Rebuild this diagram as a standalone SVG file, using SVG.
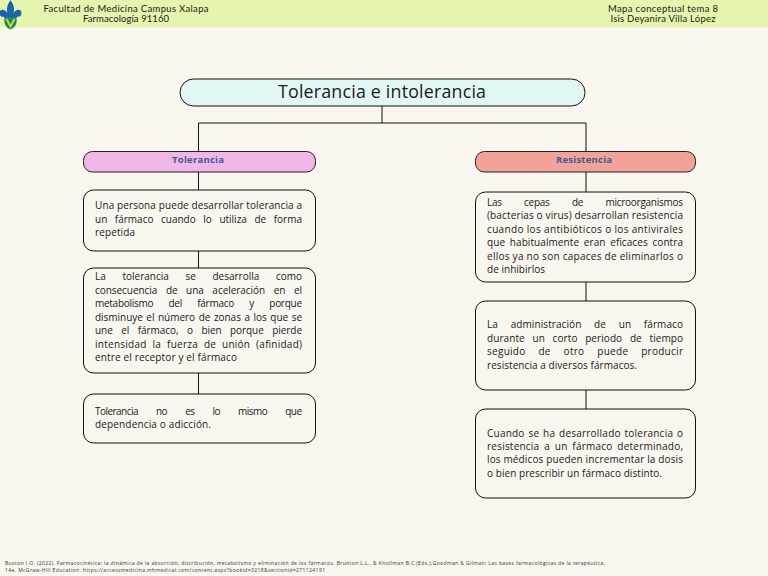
<svg xmlns="http://www.w3.org/2000/svg" width="768" height="576" viewBox="0 0 768 576">
<style>
text{font-family:"Open Sans","Liberation Sans",sans-serif;fill:#1a1a1a}
.box{fill:#f9f5ef;stroke:#111;stroke-width:1}
.hd{stroke:#222;stroke-width:1}
.b{font-size:10px}
.s{font-family:"Lato","Liberation Sans",sans-serif;font-size:9.500px}
.h{font-size:9.500px;font-weight:700;fill:#3f5a96}
.f{font-size:5px;fill:#333}
.c{fill:none;stroke:#111;stroke-width:1}
</style>
<rect width="768" height="576" fill="#f9f5ef"/>
<rect width="768" height="27.500" fill="#e6f5ad"/>
<g id="logo">
<path d="M10.500 0C13 4 15 7 13.500 13C15 10 19 8.500 21 11C22.500 14 20 18 17 16.500C17.500 19 14.500 18.500 13 17.500L13 19H8L8 17.500C6.500 18.500 3.500 19 4 16.500C1 18-1.500 14 0 11C2 8.500 6 10 7.500 13C6 7 8 4 10.500 0Z" fill="#1b64ac"/>
<path d="M4.500 18.500C7 17 14 17 16.500 18.500C17.500 23 15 28 10.500 29.500C6 28 3.500 23 4.500 18.500Z" fill="#1b8a5a"/>
<path d="M6.500 19L10.500 26.500L14.500 19" fill="none" stroke="#c9d43c" stroke-width="2"/>
</g>
<g id="header-left"><text class="s" x="126" y="12" text-anchor="middle" textLength="165">Facultad de Medicina Campus Xalapa</text><text class="s" x="126" y="22" text-anchor="middle" textLength="86">Farmacología 91160</text></g>
<g id="header-right"><text class="s" x="663" y="11.500" text-anchor="middle" textLength="110">Mapa conceptual tema 8</text><text class="s" x="663" y="21.500" text-anchor="middle" textLength="105">Isis Deyanira Villa López</text></g>
<g id="connectors">
<path class="c" d="M382 106V123M198.500 123H586M198.500 123V151M586 123V151M198.500 172V190M198.500 251V268M198.500 373V394M586 172V192M586 282V301M586 390V409"/>
</g>
<g id="title"><rect x="180" y="79" width="405" height="27" rx="13.500" fill="#e1f7f3" stroke="#111"/><text x="278" y="98" font-size="17.800" textLength="208">Tolerancia e intolerancia</text></g>
<g id="tolerancia"><rect class="hd" x="83.500" y="151.500" width="232" height="20.500" rx="9" fill="#efb6e6"/><text class="h" x="172" y="163" textLength="52">Tolerancia</text></g>
<g id="resistencia"><rect class="hd" x="475.500" y="151.500" width="220" height="20.500" rx="9" fill="#f2a299"/><text class="h" x="556" y="163" textLength="56">Resistencia</text></g>
<g id="t1"><rect class="box" x="83.500" y="190" width="232" height="61" rx="10"/>
<text class="b" x="95" y="208.500" textLength="207">Una persona puede desarrollar tolerancia a</text>
<text class="b" x="95" y="222.500" word-spacing="5" textLength="207">un fármaco cuando lo utiliza de forma</text>
<text class="b" x="95" y="235.500" textLength="40">repetida</text></g>
<g id="t2"><rect class="box" x="83.500" y="268" width="232" height="105" rx="10"/>
<text class="b" x="95" y="279.500" word-spacing="14" textLength="207">La tolerancia se desarrolla como</text>
<text class="b" x="95" y="293.500" word-spacing="6" textLength="207">consecuencia de una aceleración en el</text>
<text class="b" x="95" y="306.500" word-spacing="13" textLength="207">metabolismo del fármaco y porque</text>
<text class="b" x="95" y="320.500" word-spacing="1" textLength="207">disminuye el número de zonas a los que se</text>
<text class="b" x="95" y="333.500" word-spacing="6" textLength="207">une el fármaco, o bien porque pierde</text>
<text class="b" x="95" y="347.500" word-spacing="3" textLength="207">intensidad la fuerza de unión (afinidad)</text>
<text class="b" x="95" y="360.500" textLength="142">entre el receptor y el fármaco</text></g>
<g id="t3"><rect class="box" x="83.500" y="394" width="232" height="49" rx="10"/>
<text class="b" x="95" y="414.500" word-spacing="16" textLength="207">Tolerancia no es lo mismo que</text>
<text class="b" x="95" y="427.500" textLength="116">dependencia o adicción.</text></g>
<g id="r1"><rect class="box" x="475.500" y="192" width="220" height="90" rx="10"/>
<text class="b" x="487" y="205.500" word-spacing="20" textLength="196">Las cepas de microorganismos</text>
<text class="b" x="487" y="219" textLength="196">(bacterias o virus) desarrollan resistencia</text>
<text class="b" x="487" y="232.500" textLength="196">cuando los antibióticos o los antivirales</text>
<text class="b" x="487" y="246" word-spacing="2" textLength="196">que habitualmente eran eficaces contra</text>
<text class="b" x="487" y="259.500" textLength="196">ellos ya no son capaces de eliminarlos o</text>
<text class="b" x="487" y="273" textLength="58">de inhibirlos</text></g>
<g id="r2"><rect class="box" x="475.500" y="301" width="220" height="89" rx="10"/>
<text class="b" x="487" y="328" word-spacing="10" textLength="196">La administración de un fármaco</text>
<text class="b" x="487" y="342" word-spacing="5" textLength="196">durante un corto periodo de tiempo</text>
<text class="b" x="487" y="355" word-spacing="10" textLength="196">seguido de otro puede producir</text>
<text class="b" x="487" y="369" textLength="150">resistencia a diversos fármacos.</text></g>
<g id="r3"><rect class="box" x="475.500" y="409" width="220" height="89" rx="10"/>
<text class="b" x="487" y="436.500" word-spacing="1" textLength="196">Cuando se ha desarrollado tolerancia o</text>
<text class="b" x="487" y="449.500" word-spacing="2" textLength="196">resistencia a un fármaco determinado,</text>
<text class="b" x="487" y="462.500" textLength="196">los médicos pueden incrementar la dosis</text>
<text class="b" x="487" y="476.500" textLength="175">o bien prescribir un fármaco distinto.</text></g>
<g id="ref"><text class="f" x="5" y="564.500" textLength="600">Buxton I.O. (2022). Farmacocinética: la dinámica de la absorción, distribución, metabolismo y eliminación de los fármacos. Brunton L.L., &amp; Knollman B.C.(Eds.),Goodman &amp; Gilman: Las bases farmacológicas de la terapéutica,</text>
<text class="f" x="5" y="572" textLength="320">14e. McGraw-Hill Education. https://accessmedicina.mhmedical.com/content.aspx?bookid=3218&amp;sectionid=271124191</text></g>
</svg>
